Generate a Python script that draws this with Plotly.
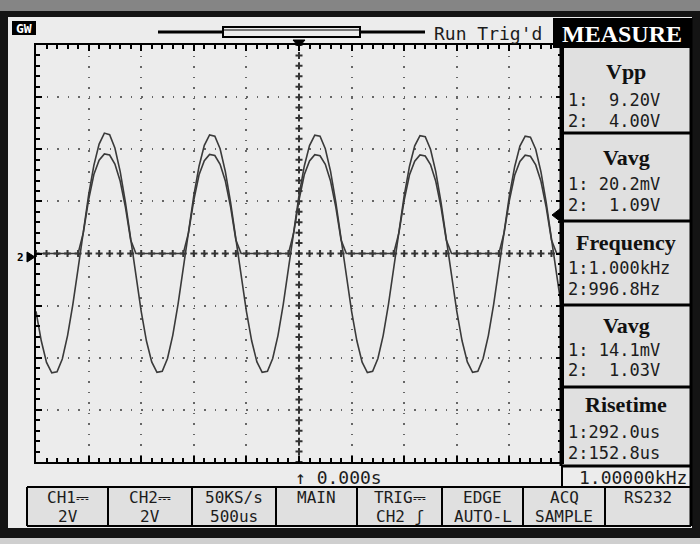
import plotly.graph_objects as go

W, H = 700, 544

# sample times (us) across 10 div at 500us/div
T_US = list(range(-2500, 2501, 50))

# CH1: sine input, volts (2V/div)
CH1_V = [
    -2.22, -3.35, -4.18, -4.58, -4.54, -4.05, -3.15, -1.96, -0.58, 0.86,
    2.24, 3.38, 4.20, 4.62, 4.56, 4.05, 3.15, 1.96, 0.58, -0.86,
    -2.22, -3.36, -4.16, -4.56, -4.52, -4.03, -3.14, -1.95, -0.58, 0.86,
    2.22, 3.35, 4.15, 4.55, 4.50, 4.02, 3.14, 1.95, 0.58, -0.86,
    -2.22, -3.35, -4.16, -4.56, -4.52, -4.03, -3.15, -1.96, -0.58, 0.86,
    2.22, 3.35, 4.14, 4.54, 4.50, 4.02, 3.15, 1.96, 0.58, -0.86,
    -2.22, -3.35, -4.17, -4.57, -4.52, -4.03, -3.15, -1.96, -0.58, 0.86,
    2.22, 3.34, 4.13, 4.52, 4.48, 4.00, 3.14, 1.96, 0.58, -0.86,
    -2.22, -3.35, -4.16, -4.56, -4.52, -4.03, -3.15, -1.96, -0.58, 0.86,
    2.22, 3.33, 4.12, 4.50, 4.46, 4.00, 3.13, 1.95, 0.58, -0.86,
    -2.22,
]

# CH2: half-wave rectified output, volts (2V/div)
CH2_V = [
    0, 0, 0, 0, 0, 0, 0, 0, 0, 0.80,
    2.06, 3.03, 3.58, 3.82, 3.78, 3.43, 2.78, 1.78, 0.52, 0,
    0, 0, 0, 0, 0, 0, 0, 0, 0, 0.80,
    2.05, 3.02, 3.56, 3.80, 3.76, 3.42, 2.78, 1.78, 0.52, 0,
    0, 0, 0, 0, 0, 0, 0, 0, 0, 0.80,
    2.05, 3.02, 3.55, 3.79, 3.75, 3.42, 2.78, 1.78, 0.52, 0,
    0, 0, 0, 0, 0, 0, 0, 0, 0, 0.80,
    2.05, 3.01, 3.54, 3.78, 3.74, 3.41, 2.77, 1.78, 0.52, 0,
    0, 0, 0, 0, 0, 0, 0, 0, 0, 0.80,
    2.04, 3.00, 3.53, 3.77, 3.73, 3.40, 2.77, 1.77, 0.52, 0,
    0,
]

MEAS_TITLES = ["Vpp", "Vavg", "Frequency", "Vavg", "Risetime"]
MEAS_LINE1 = ["1:  9.20V", "1: 20.2mV", "1:1.000kHz", "1: 14.1mV", "1:292.0us"]
MEAS_LINE2 = ["2:  4.00V", "2:  1.09V", "2:996.8Hz", "2:  1.03V", "2:152.8us"]

MENU_TOP = ["CH1⎓", "CH2⎓", "50KS/s", "MAIN", "TRIG⎓", "EDGE", "ACQ", "RS232"]
MENU_BOTTOM = ["2V", "2V", "500us", "", "CH2 ʃ", "AUTO-L", "SAMPLE", ""]

MONO = "DejaVu Sans Mono"
SERIF = "Liberation Serif"
INK = "#1c1c1c"
SCREEN = "#ececec"
PANEL = "#e0e0e0"

# plot area in pixels
PX0, PX1, PY0, PY1 = 36, 562, 45, 462


def fx(x):
    return x / W


def fy(y):
    return 1 - y / H


def rect(x0, y0, x1, y1, fill="rgba(0,0,0,0)", line="rgba(0,0,0,0)", lw=0, layer="below"):
    return dict(type="rect", xref="paper", yref="paper", x0=fx(x0), x1=fx(x1),
                y0=fy(y1), y1=fy(y0), fillcolor=fill, line=dict(color=line, width=lw), layer=layer)


def hline(x0, x1, y, lw=2, color="black"):
    return dict(type="line", xref="paper", yref="paper", x0=fx(x0), x1=fx(x1),
                y0=fy(y), y1=fy(y), line=dict(color=color, width=lw), layer="above")


def vline(x, y0, y1, lw=2, color="black"):
    return dict(type="line", xref="paper", yref="paper", x0=fx(x), x1=fx(x),
                y0=fy(y0), y1=fy(y1), line=dict(color=color, width=lw), layer="above")


def tri(points, color="black"):
    d = "M" + " L".join(f"{fx(x)},{fy(y)}" for x, y in points) + " Z"
    return dict(type="path", xref="paper", yref="paper", path=d, fillcolor=color,
                line=dict(color=color, width=1), layer="above")


def text(s, x, y, size=18, font=MONO, color=INK, xanchor="center"):
    return dict(text=s, x=fx(x), y=fy(y), xref="paper", yref="paper", showarrow=False,
                xanchor=xanchor, yanchor="middle", font=dict(family=font, size=size, color=color))


fig = go.Figure()

# graticule centre crosses
xs_c = [t for t in range(-2500, 2501, 100)]
ys_c = [v / 10 for v in range(-80, 81, 4)]
fig.add_trace(go.Scatter(
    x=xs_c + [0] * len(ys_c), y=[0] * len(xs_c) + ys_c, mode="markers",
    marker=dict(symbol="cross-thin", size=5, line=dict(color="#333", width=2)),
    hoverinfo="skip", showlegend=False,
))

fig.add_trace(go.Scatter(x=T_US, y=CH1_V, mode="lines", name="CH1",
                         line=dict(color="#3a3a3a", width=1.6), showlegend=False))
fig.add_trace(go.Scatter(x=T_US, y=CH2_V, mode="lines", name="CH2",
                         line=dict(color="#3a3a3a", width=1.6), showlegend=False))

shapes = [
    # photo surroundings
    rect(0, 0, 700, 11, fill="#858585"),
    rect(0, 538, 700, 544, fill="#cfcfcf"),
    # screen
    rect(8, 17, 692, 528, fill=SCREEN),
    # measure panel
    rect(561, 48, 691, 466, fill=PANEL),
    # menu bar
    rect(27, 487, 690, 526, fill=PANEL),
    # GW logo, MEASURE header
    rect(12, 21, 36, 35, fill="black"),
    rect(553, 18, 692, 48, fill="black"),
    # memory bar
    hline(158, 425, 32, lw=3),
    rect(223, 27, 360, 37, fill=SCREEN, line="black", lw=2, layer="above"),
    hline(224, 359, 30, lw=1),
    # measure panel lines
    vline(561, 48, 466, lw=3),
    vline(691, 18, 526, lw=3),
    # frequency box
    rect(562, 466, 691, 487, line="black", lw=2, layer="above"),
    # menu lines
    hline(27, 691, 487, lw=2),
    hline(27, 691, 526, lw=2),
    vline(27, 487, 526, lw=2),
    # markers
    tri([(293, 40), (305, 40), (299, 47)]),
    tri([(561, 208), (552, 215), (561, 222)]),
    tri([(27, 252), (35, 257), (27, 262)]),
]
for y in [133, 221, 305, 387, 466]:
    shapes.append(hline(561, 691, y, lw=3))
for x in [108, 192, 276, 357, 442, 523, 605]:
    shapes.append(vline(x, 487, 526, lw=2))

ann = [
    text("<b>GW</b>", 24, 28, size=13, color="white"),
    text("Run Trig'd", 432, 33, size=18, xanchor="left"),
    text("<b>MEASURE</b>", 622, 34, size=24, font=SERIF, color="white"),
    text("<b>2</b>", 20, 257, size=11, color="black"),
    text("↑ 0.000s", 338, 477, size=18),
    text("1.00000kHz", 689, 477, size=18, xanchor="right"),
]
title_y = [72, 157, 242, 325, 404]
l1_y = [100, 184, 268, 350, 432]
l2_y = [121, 205, 289, 370, 453]
for i, t in enumerate(MEAS_TITLES):
    ann.append(text(f"<b>{t}</b>", 626, title_y[i], size=22, font=SERIF, color="#111"))
    ann.append(text(MEAS_LINE1[i], 566, l1_y[i], size=17, xanchor="left"))
    ann.append(text(MEAS_LINE2[i], 566, l2_y[i], size=17, xanchor="left"))

cells = [27, 108, 192, 276, 357, 442, 523, 605, 690]
for i in range(len(MENU_TOP)):
    cx = (cells[i] + cells[i + 1]) / 2
    ann.append(text(MENU_TOP[i], cx, 497, size=16))
    if MENU_BOTTOM[i]:
        ann.append(text(MENU_BOTTOM[i], cx, 516, size=16))

axis_common = dict(
    showticklabels=False, zeroline=False, showline=True, linecolor="black", linewidth=2,
    mirror="ticks", ticks="inside", ticklen=6, tickwidth=1.5, tickcolor="black",
    showgrid=True, gridcolor="#666", gridwidth=1.5, griddash="1.5px,9px",
)
fig.update_layout(
    width=W, height=H, margin=dict(l=0, r=0, t=0, b=0),
    paper_bgcolor="#141414", plot_bgcolor=SCREEN,
    shapes=shapes, annotations=ann, showlegend=False,
    xaxis=dict(domain=[fx(PX0), fx(PX1)], range=[-2500, 2500], dtick=500, tick0=0,
               minor=dict(dtick=100, ticks="inside", ticklen=4, tickcolor="black", showgrid=False),
               **axis_common),
    yaxis=dict(domain=[fy(PY1), fy(PY0)], range=[-8, 8], dtick=2, tick0=0,
               minor=dict(dtick=0.4, ticks="inside", ticklen=4, tickcolor="black", showgrid=False),
               **axis_common),
)

fig.write_html("out.html", config={"displayModeBar": False},
               post_script="document.body.style.margin='0';")
